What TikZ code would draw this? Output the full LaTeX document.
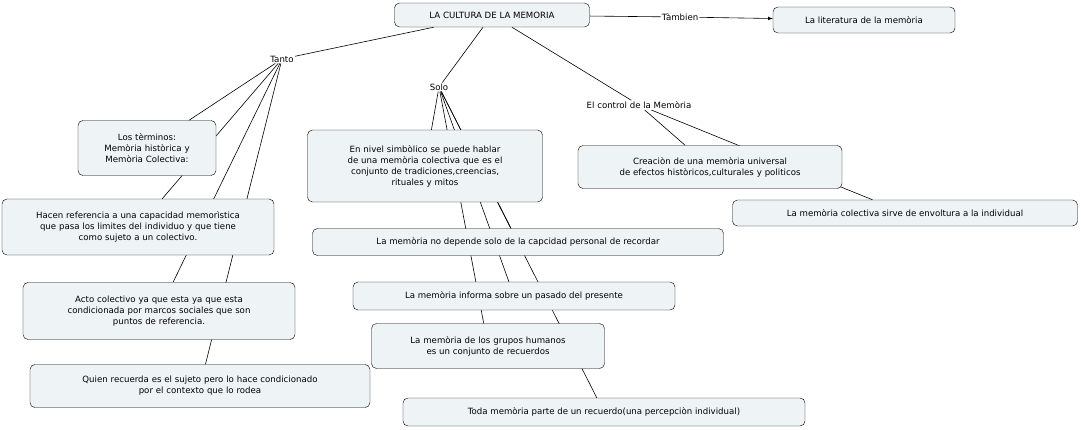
\documentclass[tikz,border=0pt]{standalone}
\usepackage{fontspec}
\setmainfont{DejaVu Sans}
\usetikzlibrary{arrows,backgrounds}
\definecolor{boxfill}{RGB}{238,243,246}
\tikzstyle{concept} = [rectangle, rounded corners=5pt, draw=black, fill=boxfill, text centered, inner sep=3pt, font=\fontsize{8.6}{11}\selectfont]
\tikzstyle{phrase} = [fill=white, inner sep=1pt, font=\fontsize{8.6}{11}\selectfont]
\tikzstyle{link} = [black, line width=.6pt]
\tikzstyle{arrow} = [link,->,>=latex]

\begin{document}
\begin{tikzpicture}[x=1pt, y=-1pt]
\useasboundingbox (0,0) rectangle (1081,429);

\node (root) [concept, minimum width=195pt, minimum height=24pt] at (492,15) {LA CULTURA DE LA MEMORIA};
\node (tambien) [phrase] at (680,17) {Tàmbien};
\node (lit) [concept, minimum width=182pt, minimum height=26pt] at (864,20) {La literatura de la memòria};
\node (tanto) [phrase] at (282,59) {Tanto};
\node (solo) [phrase] at (439,87) {Solo};
\node (control) [phrase] at (639,105) {El control de la Memòria};

\node (terminos) [concept, text width=132pt, minimum height=55pt] at (147,148) {Los tèrminos:\\Memòria històrica y\\Memòria Colectiva:};
\node (hacen) [concept, text width=266pt, minimum height=56pt] at (138,227) {Hacen referencia a una capacidad memorìstica\\que pasa los limites del individuo y que tiene\\como sujeto a un colectivo.};
\node (acto) [concept, text width=266pt, minimum height=57pt] at (159,311) {Acto colectivo ya que esta ya que esta\\condicionada por marcos sociales que son\\puntos de referencia.};
\node (quien) [concept, text width=334pt, minimum height=43pt] at (200,386) {Quien recuerda es el sujeto pero lo hace condicionado\\por el contexto que lo rodea};

\node (nivel) [concept, text width=229pt, minimum height=72pt] at (425,166) {En nivel simbòlico se puede hablar\\de una memòria colectiva que es el\\conjunto de tradiciones,creencias,\\rituales y mitos};
\node (depende) [concept, minimum width=411pt, minimum height=27pt] at (518,242) {La memòria no depende solo de la capcidad personal de recordar};
\node (informa) [concept, minimum width=322pt, minimum height=28pt] at (514,296) {La memòria informa sobre un pasado del presente};
\node (grupos) [concept, text width=227pt, minimum height=45pt] at (488,346) {La memòria de los grupos humanos\\es un conjunto de recuerdos};
\node (toda) [concept, minimum width=402pt, minimum height=28pt] at (604,412) {Toda memòria parte de un recuerdo(una percepciòn individual)};

\node (creacion) [concept, text width=258pt, minimum height=43pt] at (710,167) {Creaciòn de una memòria universal\\de efectos històricos,culturales y politicos};
\node (sirve) [concept, minimum width=345pt, minimum height=26pt] at (905,213) {La memòria colectiva sirve de envoltura a la individual};

\begin{scope}[on background layer]
\draw [link] (root) -- (tanto);
\draw [link] (root) -- (solo);
\draw [link] (root) -- (control);
\draw [link] (root) -- (tambien);
\draw [arrow] (tambien) -- (lit);
\foreach \n in {terminos, hacen, acto, quien}
  \draw [link] (tanto) -- (\n);
\foreach \n in {nivel, depende, informa, grupos, toda}
  \draw [link] (solo) -- (\n);
\draw [link] (control) -- (creacion);
\draw [link] (control) -- (sirve);
\end{scope}

\end{tikzpicture}
\end{document}
